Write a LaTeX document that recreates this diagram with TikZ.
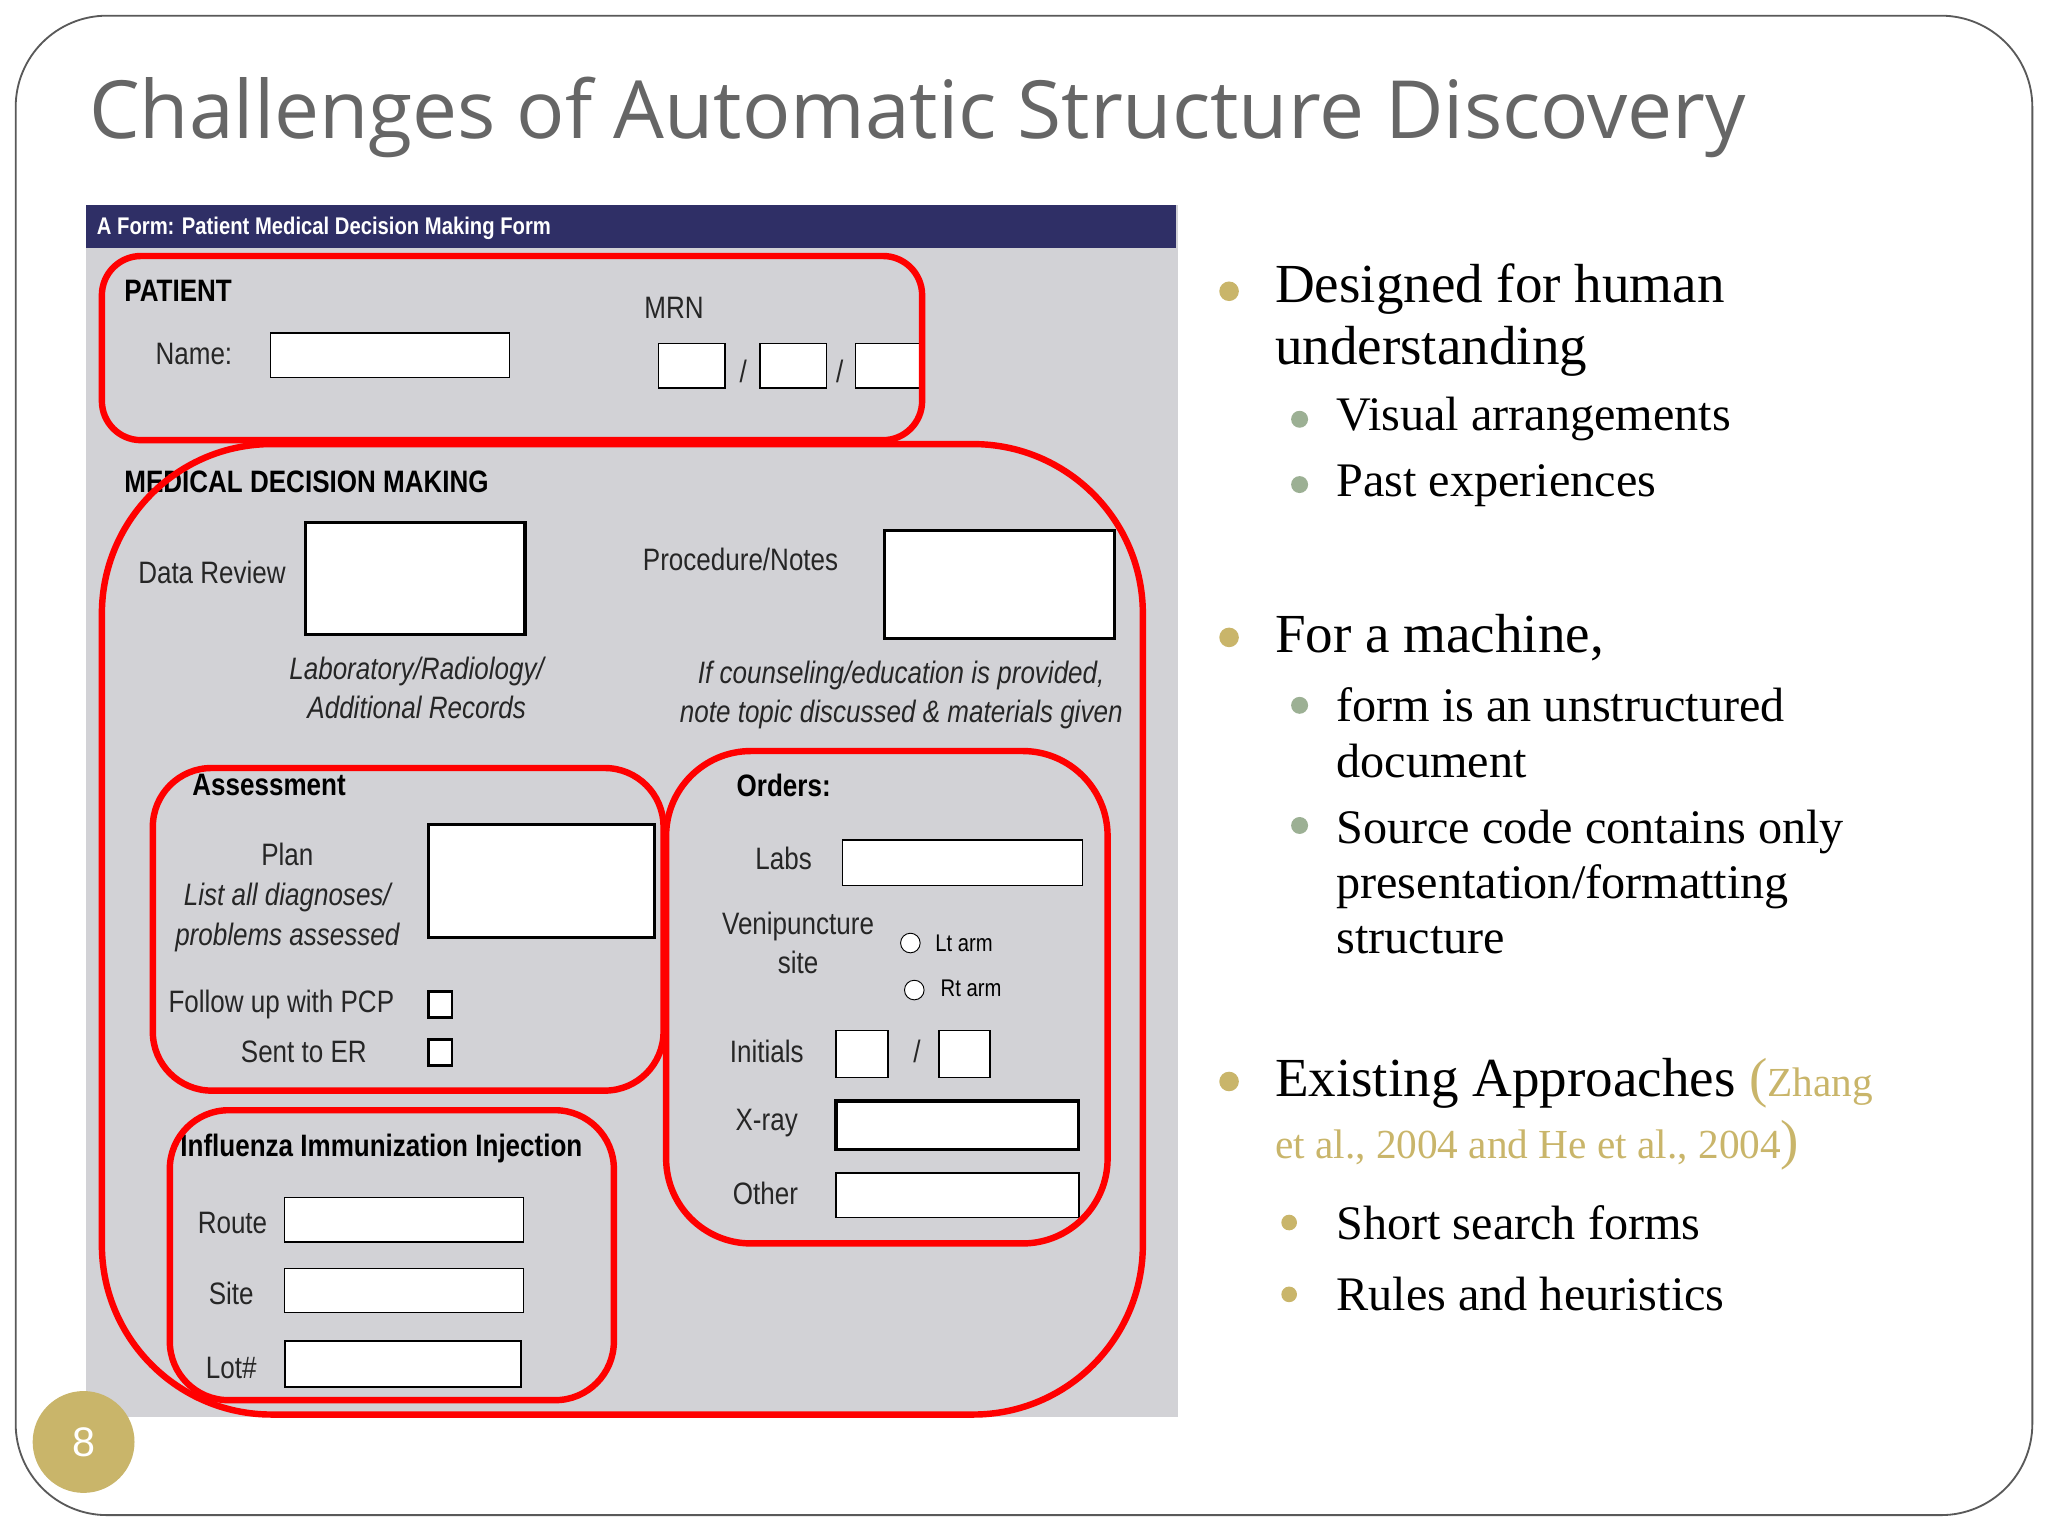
\documentclass[tikz,border=0pt]{standalone}
\usepackage{fontspec}
\setmainfont{Liberation Serif}
\setsansfont{Liberation Sans}
\newfontfamily\titlefont{Open Sans}
\newfontfamily\narrow[FakeStretch=0.84]{Liberation Sans}
\begin{document}
\begin{tikzpicture}[x=0.02cm,y=-0.02cm,
  redbox/.style={draw=red,line width=2.8pt},
  field/.style={draw=black,fill=white,line width=0.6pt},
  tfield/.style={draw=black,fill=white,line width=1.4pt},
  lab/.style={font=\narrow\fontsize{13.5}{15}\selectfont,text=black!85},
  ital/.style={font=\narrow\itshape\fontsize{13.5}{17}\selectfont,text=black!85,align=center},
  bold/.style={font=\narrow\bfseries\fontsize{13.5}{15}\selectfont},
  b1/.style={font=\fontsize{24}{27}\selectfont,anchor=west,align=left},
  b2/.style={font=\fontsize{21}{24}\selectfont,anchor=west,align=left},
  dotA/.style={circle,fill=gold,inner sep=0pt,minimum size=0.3cm},
  dotB/.style={circle,fill=sage,inner sep=0pt,minimum size=0.26cm}]
\definecolor{gold}{HTML}{C9B56A}
\definecolor{sage}{HTML}{9CB094}
\definecolor{navy}{HTML}{2F2F66}
\definecolor{formgray}{HTML}{D2D2D6}
\useasboundingbox (0,0) rectangle (1568,1176);
\draw[gray!70!black,line width=0.8pt,rounded corners=1.4cm] (12,12) rectangle (1556,1160);
\node[anchor=west,font=\titlefont\fontsize{35}{40}\selectfont,text=black!60] (title) at (62,90) {Challenges of Automatic Structure Discovery};
% form
\fill[formgray] (66,157) rectangle (902,1085);
\fill[navy] (66,157) rectangle (900,190);
\node[anchor=west,font=\narrow\bfseries\fontsize{10.5}{12}\selectfont,text=white] (hdr) at (68,175) {A Form: Patient Medical Decision Making Form};
\node[bold,anchor=west] (pat) at (89,223) {PATIENT};
\node[lab] (mrn) at (516,236) {MRN};
\node[lab,anchor=east] (name) at (184,271) {Name:};
\draw[field] (207,255) rectangle (390,289);
\draw[field] (504,263) rectangle (555,297);
\node[lab] (s1) at (569,284) {/};
\draw[field] (582,263) rectangle (633,297);
\node[lab] (s2) at (643,284) {/};
\draw[field] (655,263) rectangle (705,297);
\node[bold,anchor=west] (mdm) at (89,369) {MEDICAL DECISION MAKING};
\node[lab,anchor=east] (dr) at (225,438) {Data Review};
\draw[tfield] (234,400) rectangle (402,486);
\node[lab] (pn) at (567,428) {Procedure/Notes};
\draw[tfield] (677,406) rectangle (853,489);
\node[ital] (lr) at (319,527) {Laboratory/Radiology/\\Additional Records};
\node[ital] (cn) at (690,532) {If counseling/education is provided,\\note topic discussed \& materials given};
\node[bold] (asm) at (206,601) {Assessment};
\node[lab,align=center,font=\narrow\fontsize{13.5}{17.5}\selectfont] (plan) at (220,687) {Plan\\{\itshape List all diagnoses/}\\{\itshape problems assessed}};
\draw[tfield] (328,631) rectangle (501,718);
\node[lab,anchor=east] (fu) at (308,769) {Follow up with PCP};
\draw[field,line width=1.2pt] (328,759) rectangle (346,779);
\node[lab,anchor=east] (er) at (287,805) {Sent to ER};
\draw[field,line width=1.2pt] (328,796) rectangle (346,816);
\node[bold] (ord) at (600,601) {Orders:};
\node[lab] (labs) at (600,657) {Labs};
\draw[field] (645,643) rectangle (829,678);
\node[lab,align=center,font=\narrow\fontsize{13.5}{17}\selectfont] (ven) at (611,722) {Venipuncture\\site};
\draw[black,fill=white] (697,722) circle (0.15cm);
\node[font=\narrow\fontsize{10.5}{12}\selectfont,anchor=west] (lt) at (710,722) {Lt arm};
\draw[black,fill=white] (700,758) circle (0.15cm);
\node[font=\narrow\fontsize{10.5}{12}\selectfont,anchor=west] (rt) at (714,757) {Rt arm};
\node[lab] (ini) at (587,805) {Initials};
\draw[field] (640,789) rectangle (680,825);
\node[lab] (s3) at (702,805) {/};
\draw[field] (719,789) rectangle (758,825);
\node[lab] (xr) at (587,860) {X-ray};
\draw[tfield] (640,843) rectangle (826,880);
\node[lab] (oth) at (586,914) {Other};
\draw[field] (640,898) rectangle (826,932);
\node[bold] (flu) at (292,879) {Influenza Immunization Injection};
\node[lab] (route) at (178,936) {Route};
\draw[field] (218,917) rectangle (401,951);
\node[lab] (site) at (177,990) {Site};
\draw[field] (218,971) rectangle (401,1005);
\node[lab] (lot) at (177,1047) {Lot\#};
\draw[tfield,line width=0.8pt] (218,1027) rectangle (399,1062);
% red boxes
\draw[redbox,rounded corners=0.6cm] (78,196) rectangle (706,337);
\draw[redbox,rounded corners=2.6cm] (78,340) rectangle (875,1083);
\draw[redbox,rounded corners=0.9cm] (117,588) rectangle (508,835);
\draw[redbox,rounded corners=1.3cm] (510,575) rectangle (848,952);
\draw[redbox,rounded corners=0.9cm] (130,850) rectangle (470,1072);
% page number
\node[circle,fill=gold,minimum size=1.56cm,text=white,font=\sffamily\fontsize{18}{20}\selectfont] (pg) at (64,1104) {8};
% bullets
\node[dotA] (d1) at (941,223) {};
\node[b1] (t1) at (970,245) {Designed for human\\understanding};
\node[dotB] (d11) at (995,321) {};
\node[b2] (t11) at (1017,321) {Visual arrangements};
\node[dotB] (d12) at (995,371) {};
\node[b2] (t12) at (1017,372) {Past experiences};
\node[dotA] (d2) at (941,488) {};
\node[b1] (t2) at (970,488) {For a machine,};
\node[dotB] (d21) at (995,540) {};
\node[b2] (t21) at (1017,561) {form is an unstructured\\document};
\node[dotB] (d22) at (995,632) {};
\node[b2] (t22) at (1017,675) {Source code contains only\\presentation/formatting\\structure};
\node[dotA] (d3) at (941,828) {};
\node[b1,text width=10.2cm,align=flush left] (t3) at (970,853) {Existing Approaches {\color{gold}(\fontsize{18}{22}\selectfont Zhang et~al., 2004 and He et al., 2004\fontsize{24}{27}\selectfont)}};
\node[dotA,minimum size=0.24cm] (d31) at (987,936) {};
\node[b2] (t31) at (1017,936) {Short search forms};
\node[dotA,minimum size=0.24cm] (d32) at (987,991) {};
\node[b2] (t32) at (1017,991) {Rules and heuristics};
\end{tikzpicture}
\end{document}
